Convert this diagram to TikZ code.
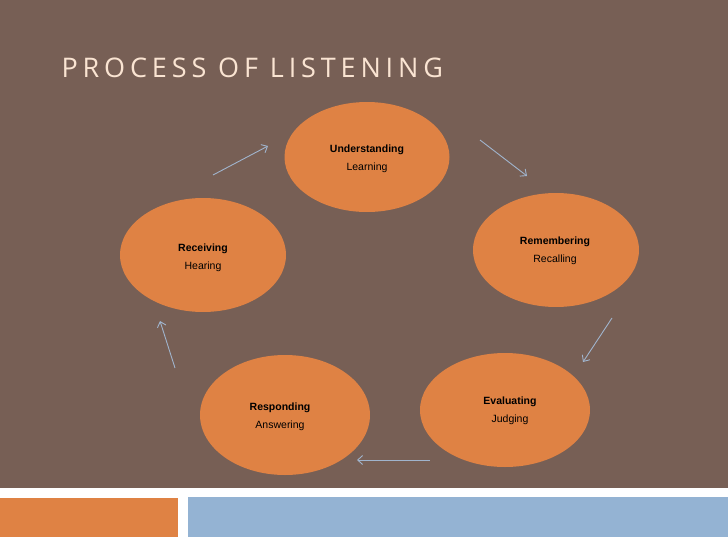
\documentclass[tikz,border=0pt]{standalone}
\usepackage{fontspec}
\setmainfont{Liberation Sans}
\newfontfamily\titlefont[LetterSpace=18]{Open Sans}
\usetikzlibrary{shapes.geometric,arrows.meta}
\definecolor{bgbrown}{RGB}{119,95,85}
\definecolor{stepfill}{RGB}{223,130,68}
\definecolor{arrowblue}{RGB}{160,180,205}
\definecolor{barblue}{RGB}{148,179,211}
\definecolor{titlecol}{RGB}{250,228,210}
\tikzset{
  stage/.style={ellipse,fill=stepfill,minimum width=#1,inner sep=0pt},
  stagetext/.style={align=center,font=\fontsize{10.5}{18}\selectfont,text=black},
  flow/.style={draw=arrowblue,line width=0.9pt,-{Straight Barb[length=5pt,width=9pt]}}
}
\begin{document}
\begin{tikzpicture}[x=1pt,y=-1pt]
\useasboundingbox (0,0) rectangle (728,546);
\fill[white] (0,0) rectangle (728,546);
\fill[bgbrown] (0,0) rectangle (728,488);
\fill[stepfill] (0,498) rectangle (178,537);
\fill[barblue] (188,497) rectangle (728,537);
\node[anchor=west,text=titlecol,font=\titlefont\fontsize{27}{30}\selectfont] (title) at (58,68) {PROCESS OF LISTENING};
% stages
\node[stage=165pt,minimum height=110pt] (und) at (367,157) {};
\node[stage=166pt,minimum height=114pt] (rem) at (556,250) {};
\node[stage=170pt,minimum height=114pt] (eva) at (505,410) {};
\node[stage=170pt,minimum height=120pt] (res) at (285,415) {};
\node[stage=166pt,minimum height=114pt] (rec) at (203,255) {};
\node[stagetext] (undt) at (367,159) {\textbf{Understanding}\\Learning};
\node[stagetext] (remt) at (555,251) {\textbf{Remembering}\\Recalling};
\node[stagetext] (evat) at (510,411) {\textbf{Evaluating}\\Judging};
\node[stagetext] (rest) at (280,417) {\textbf{Responding}\\Answering};
\node[stagetext] (rect) at (203,258) {\textbf{Receiving}\\Hearing};
% arrows
\coordinate (a1) at (213,175); \coordinate (b1) at (268,146);
\coordinate (a2) at (480,140); \coordinate (b2) at (527,176);
\coordinate (a3) at (612,318); \coordinate (b3) at (583,362);
\coordinate (a4) at (430,460); \coordinate (b4) at (357,460);
\coordinate (a5) at (175,368); \coordinate (b5) at (160,321);
\foreach \i in {1,...,5}
  \draw[flow] (a\i) -- (b\i);
\end{tikzpicture}
\end{document}
